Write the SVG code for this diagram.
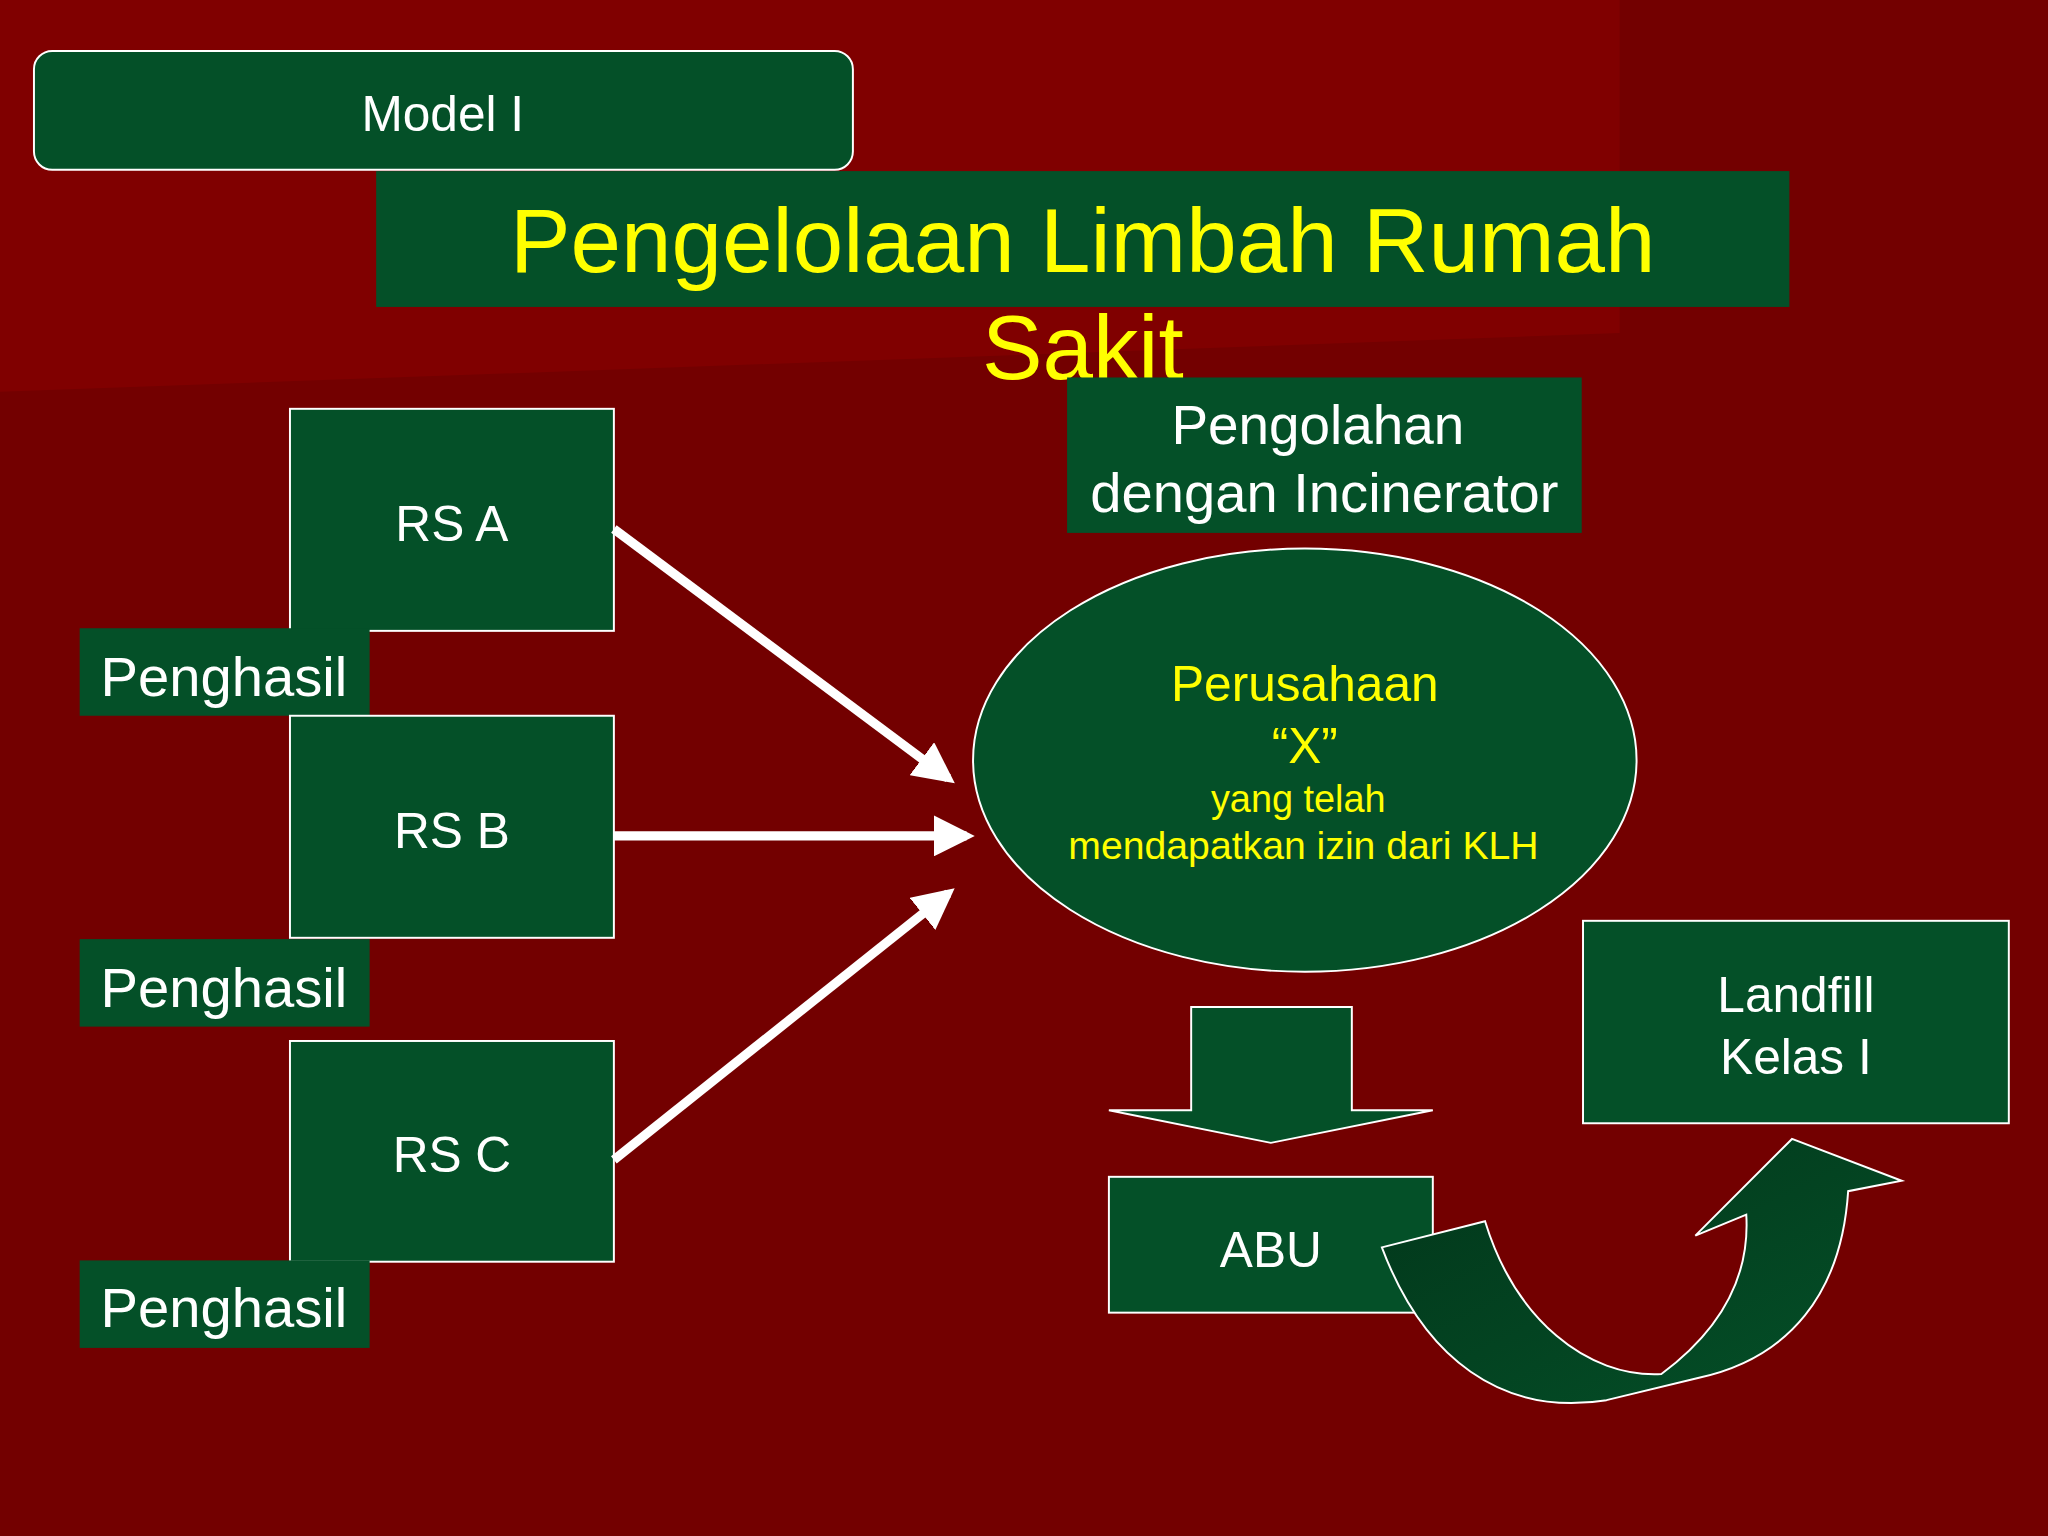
<svg xmlns="http://www.w3.org/2000/svg" width="2048" height="1536" viewBox="0 0 2048 1536">
<defs>
<style>
.box{fill:#045028;stroke:#ffffff;stroke-width:1.5}
.w{fill:#ffffff;font-family:"Liberation Sans",Arial,sans-serif}
.y{fill:#ffff00;font-family:"Liberation Sans",Arial,sans-serif}
.arr{stroke:#ffffff;stroke-width:7;fill:none;marker-end:url(#ah)}
</style>
<marker id="ah" viewBox="0 0 10 10" refX="8" refY="5" markerWidth="4.5" markerHeight="4.5" orient="auto" markerUnits="strokeWidth">
<path d="M0,0 L10,5 L0,10 Z" fill="#ffffff"/>
</marker>
<linearGradient id="cg" x1="0" y1="0" x2="1" y2="1">
<stop offset="0" stop-color="#02361a"/><stop offset="1" stop-color="#045028"/>
</linearGradient>
</defs>
<g transform="scale(1.30612)">
<rect x="0" y="0" width="1568" height="1176" fill="#730000"/>
<polygon points="0,0 1240,0 1240,255 0,300" fill="#800000"/>
<g id="model"><rect class="box" x="26" y="39" width="627" height="91" rx="14"/><text class="w" x="339" y="100" font-size="38" text-anchor="middle">Model I</text></g>
<g id="title"><rect x="288" y="131" width="1082" height="104" fill="#045028"/><text class="y" x="829" y="208" font-size="69.5" text-anchor="middle">Pengelolaan Limbah Rumah</text><text class="y" x="829" y="290" font-size="69.5" text-anchor="middle">Sakit</text></g>
<g id="pengolahan"><rect x="817" y="289" width="394" height="119" fill="#045028"/><text class="w" x="1009" y="340" font-size="42" text-anchor="middle">Pengolahan</text><text class="w" x="1014" y="392" font-size="43" text-anchor="middle">dengan Incinerator</text></g>
<g id="rsa"><rect class="box" x="222" y="313" width="248" height="170"/><text class="w" x="346" y="414" font-size="38" text-anchor="middle">RS A</text></g>
<g id="p1"><rect x="61" y="481" width="222" height="67" fill="#045028"/><text class="w" x="77" y="533" font-size="43">Penghasil</text></g>
<g id="rsb"><rect class="box" x="222" y="548" width="248" height="170"/><text class="w" x="346" y="649" font-size="38" text-anchor="middle">RS B</text></g>
<g id="p2"><rect x="61" y="719" width="222" height="67" fill="#045028"/><text class="w" x="77" y="771" font-size="43">Penghasil</text></g>
<g id="rsc"><rect class="box" x="222" y="797" width="248" height="169"/><text class="w" x="346" y="897" font-size="38" text-anchor="middle">RS C</text></g>
<g id="p3"><rect x="61" y="965" width="222" height="67" fill="#045028"/><text class="w" x="77" y="1016" font-size="43">Penghasil</text></g>
<g id="perusahaan"><ellipse cx="999" cy="582" rx="254" ry="162" fill="#045028" stroke="#ffffff" stroke-width="1.5"/>
<text class="y" x="999" y="537" font-size="38" text-anchor="middle">Perusahaan</text>
<text class="y" x="999" y="584" font-size="38" text-anchor="middle">“X”</text>
<text class="y" x="994" y="622" font-size="29" text-anchor="middle">yang telah</text>
<text class="y" x="998" y="658" font-size="30" text-anchor="middle">mendapatkan izin dari KLH</text></g>
<g id="abu"><rect class="box" x="849" y="901" width="248" height="104"/><text class="w" x="973" y="970" font-size="38" text-anchor="middle">ABU</text></g>
<g id="landfill"><rect class="box" x="1212" y="705" width="326" height="155"/><text class="w" x="1375" y="775" font-size="38" text-anchor="middle">Landfill</text><text class="w" x="1375" y="822" font-size="38" text-anchor="middle">Kelas I</text></g>
<g id="connectors">
<line class="arr" x1="470" y1="405" x2="726" y2="596"/>
<line class="arr" x1="470" y1="640" x2="740" y2="640"/>
<line class="arr" x1="470" y1="888" x2="726" y2="684"/>
<path d="M912,771 L1035,771 L1035,850 L1097,850 L973,875 L849,850 L912,850 Z" fill="#045028" stroke="#ffffff" stroke-width="1.5"/>
<path d="M1058,955 L1137,935 C1160,1010 1215,1055 1272,1052 C1315,1020 1340,980 1337,930 L1298,946 L1372,872 L1456,904 L1415,912 C1410,990 1370,1040 1300,1055 L1230,1072 C1150,1085 1090,1040 1058,955 Z" fill="url(#cg)" stroke="#ffffff" stroke-width="1.5"/>
</g>
</g>
</svg>
